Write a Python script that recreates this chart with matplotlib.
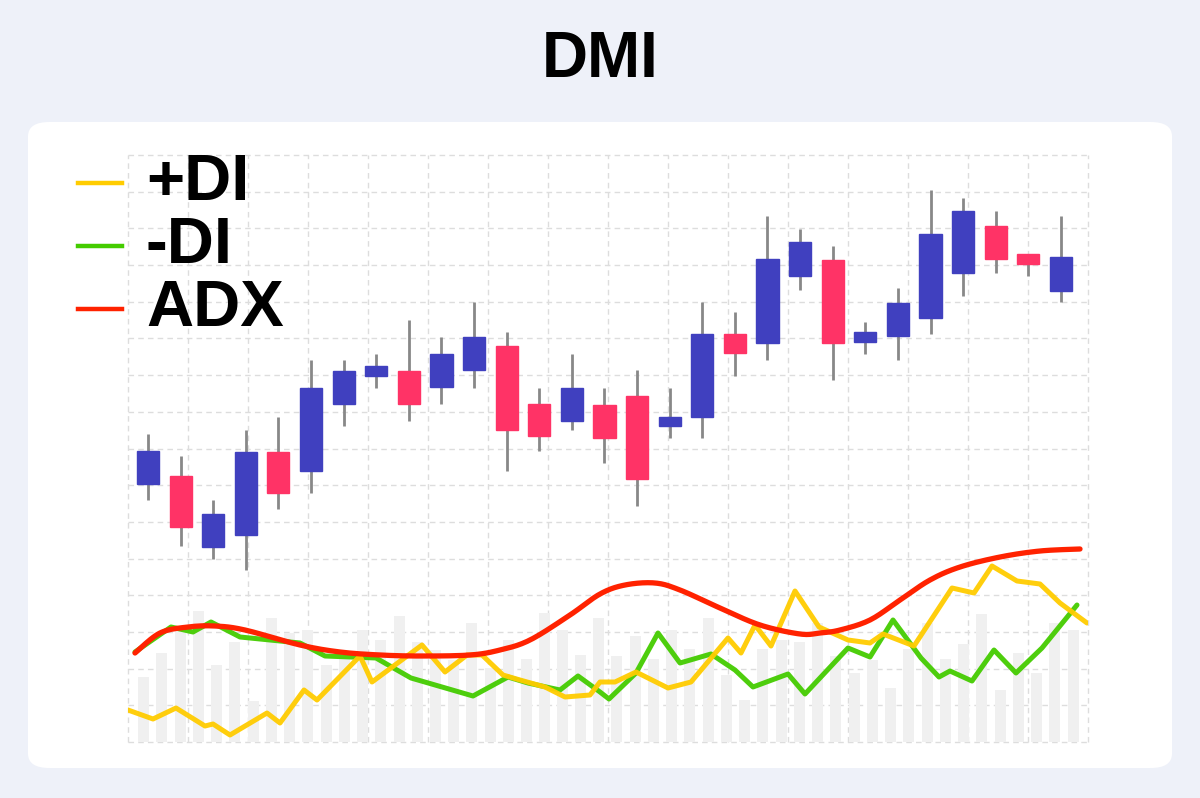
import matplotlib
matplotlib.use("Agg")
import numpy as np
import matplotlib.pyplot as plt
from matplotlib.patches import FancyBboxPatch, Rectangle
from matplotlib.lines import Line2D

# ---- data ----
c_open  = [31.6,32.4,25.3,26.5,34.8,32.9,39.6,42.4,42.9,41.3,43.0,45.4,39.6,37.9,39.5,40.4,37.4,38.3,46.6,45.7,52.4,54.0,45.8,46.4,48.2,52.7,57.4,54.6,50.9]
c_close = [34.9,27.3,28.6,34.8,30.7,41.2,42.9,43.4,39.6,44.6,46.3,37.0,36.4,41.2,36.2,32.1,38.3,46.6,44.7,54.1,55.8,45.7,46.8,49.7,56.6,58.9,54.1,53.6,54.3]
c_high  = [36.6,34.4,30.0,37.0,38.3,44.0,44.0,44.6,48.0,46.3,49.8,46.8,41.2,44.6,41.2,43.0,41.2,49.8,48.8,58.4,57.1,55.4,47.8,51.2,61.0,60.2,58.9,54.6,58.4]
c_low   = [30.0,25.4,24.1,23.0,29.1,30.7,37.4,41.2,37.9,39.6,41.2,32.9,34.9,37.0,33.7,29.4,36.2,36.2,42.4,44.0,51.0,42.0,44.6,44.0,46.6,50.4,52.7,52.4,49.8]

vol_x = [143,161,180,198,216,234,253,271,289,307,326,344,362,380,399,417,435,453,471,490,508,526,544,562,580,598,
         616,635,653,671,689,708,726,744,762,781,799,817,835,854,872,890,908,927,945,963,981,1000,1018,1036,1054,1073]
vol_top = [677,653,630,611,665,642,701,618,633,630,665,657,630,640,616,642,650,660,623,668,640,659,613,630,655,618,
           656,636,659,630,649,618,675,700,649,640,642,623,656,673,660,688,649,623,659,644,614,690,653,673,623,630]
volume = [742 - t for t in vol_top]

pdi_x = [128,153,176,205,213,230,267,280,304,317,360,372,422,445,467,482,503,520,545,565,590,
         600,615,636,668,691,728,741,755,771,795,819,848,870,883,914,952,974,992,1017,1040,1060,1087]
pdi = [16,11.5,17,8,9,3.5,14.5,9.5,26,21,43,30,48.5,35,43.5,43.5,33.5,31,27.5,22.5,23.5,
       30,30,35,27,30,52,44.5,58.5,48,75.5,57.5,51,49.5,54,48,77,74.5,88,80.5,79,69.5,59.5]

mdi_x = [135,171,193,211,240,300,325,376,411,473,508,528,560,578,
         600,609,636,658,680,711,735,753,788,805,848,870,893,921,939,950,972,994,1016,1042,1077]
mdi = [45,57.5,55,60,52.5,49.5,43,42,32,23,32.5,29.5,26,33,
       25,21.5,34.5,54.5,39.5,44,36,27.5,34,24,47,42.5,61,42,32.5,35.5,30.5,46,34.5,47,68.5]

adx_x = [135,160,188,215,245,300,340,380,420,470,500,530,570,600,625,655,680,720,760,800,820,840,870,900,930,960,1000,1040,1080]
adx = [44.5,54.5,57.5,58,56,48.5,45,43.5,43,43.5,46,51,63.5,74,78.5,79.5,76,67,58.5,54,54.5,56,61,71,81,87.5,92.5,95.5,96.5]

labels = ["+DI", "-DI", "ADX"]
colors = ["#ffcc00", "#44cc00", "#ff2200"]


def catmull_rom(xs, ys, n=12):
    xs = np.asarray(xs, float); ys = np.asarray(ys, float)
    px = np.concatenate([[xs[0]], xs, [xs[-1]]]); py = np.concatenate([[ys[0]], ys, [ys[-1]]])
    ox, oy = [], []
    t = np.linspace(0, 1, n, endpoint=False)
    for i in range(1, len(px) - 2):
        for arr, out in ((px, ox), (py, oy)):
            p0, p1, p2, p3 = arr[i-1], arr[i], arr[i+1], arr[i+2]
            out.extend(0.5*((2*p1) + (-p0+p2)*t + (2*p0-5*p1+4*p2-p3)*t**2 + (-p0+3*p1-3*p2+p3)*t**3))
    ox.append(xs[-1]); oy.append(ys[-1])
    return ox, oy


# ---- figure ----
fig = plt.figure(figsize=(12, 7.98), dpi=100)
fig.patch.set_facecolor("#eef1f9")
W, H = 1200, 798
panel = FancyBboxPatch((28/W, (H-768)/H), 1144/W, 646/H,
                       boxstyle="round,pad=0,rounding_size=0.018",
                       transform=fig.transFigure, facecolor="white", edgecolor="none", zorder=-10)
fig.patches.append(panel)
fig.text(0.5, (H-60)/H, "DMI", ha="center", va="center", fontsize=46, fontweight="bold",
         family="Liberation Sans")

rect = [128/W, (H-742)/H, 960/W, 587/H]

# grid axes
ag = fig.add_axes(rect, facecolor="none", zorder=1)
ag.set_xlim(0, 16); ag.set_ylim(0, 16)
for i in range(17):
    ag.axvline(i, color="#dddddd", lw=1, ls=(0, (4, 3)), clip_on=False)
    ag.axhline(i, color="#dddddd", lw=1, ls=(0, (4, 3)), clip_on=False)
ag.axis("off")

# volume
av = fig.add_axes(rect, facecolor="none", zorder=2)
av.bar(vol_x, volume, width=11, color="#f0f0f0", zorder=1)
av.set_xlim(128, 1088); av.set_ylim(0, 587)
av.axis("off")

# candles
ac = fig.add_axes(rect, facecolor="none", zorder=3)
for i in range(len(c_open)):
    up = c_close[i] >= c_open[i]
    col = "#4040bf" if up else "#ff3366"
    ac.vlines(i, c_low[i], c_high[i], color="#888888", lw=2, zorder=2)
    lo = min(c_open[i], c_close[i]); hi = max(c_open[i], c_close[i])
    ac.add_patch(Rectangle((i - 0.34, lo), 0.68, hi - lo, color=col, zorder=3))
ac.set_xlim(-0.613, 28.83); ac.set_ylim(5.8, 64.5)
ac.axis("off")

# DMI lines
al = fig.add_axes(rect, facecolor="none", zorder=4)
al.plot(mdi_x, mdi, color=colors[1], lw=3.6, solid_joinstyle="round", solid_capstyle="round", zorder=3, alpha=0.95)
al.plot(pdi_x, pdi, color=colors[0], lw=3.6, solid_joinstyle="round", solid_capstyle="round", zorder=4, alpha=0.95)
sx, sy = catmull_rom(adx_x, adx)
al.plot(sx, sy, color=colors[2], lw=3.8, solid_joinstyle="round", solid_capstyle="round", zorder=5)
al.set_xlim(128, 1088); al.set_ylim(0, 293.5)
al.axis("off")

# legend
for k, (lab, col) in enumerate(zip(labels, colors)):
    yy = (H - (183 + 63*k)) / H
    fig.lines.append(Line2D([78/W, 122/W], [yy, yy], color=col, lw=3.2, transform=fig.transFigure))
    fig.text(146/W, yy, lab, fontsize=47, fontweight="bold", va="center", ha="left",
             family="Liberation Sans")

fig.savefig("out.png", dpi=100)
